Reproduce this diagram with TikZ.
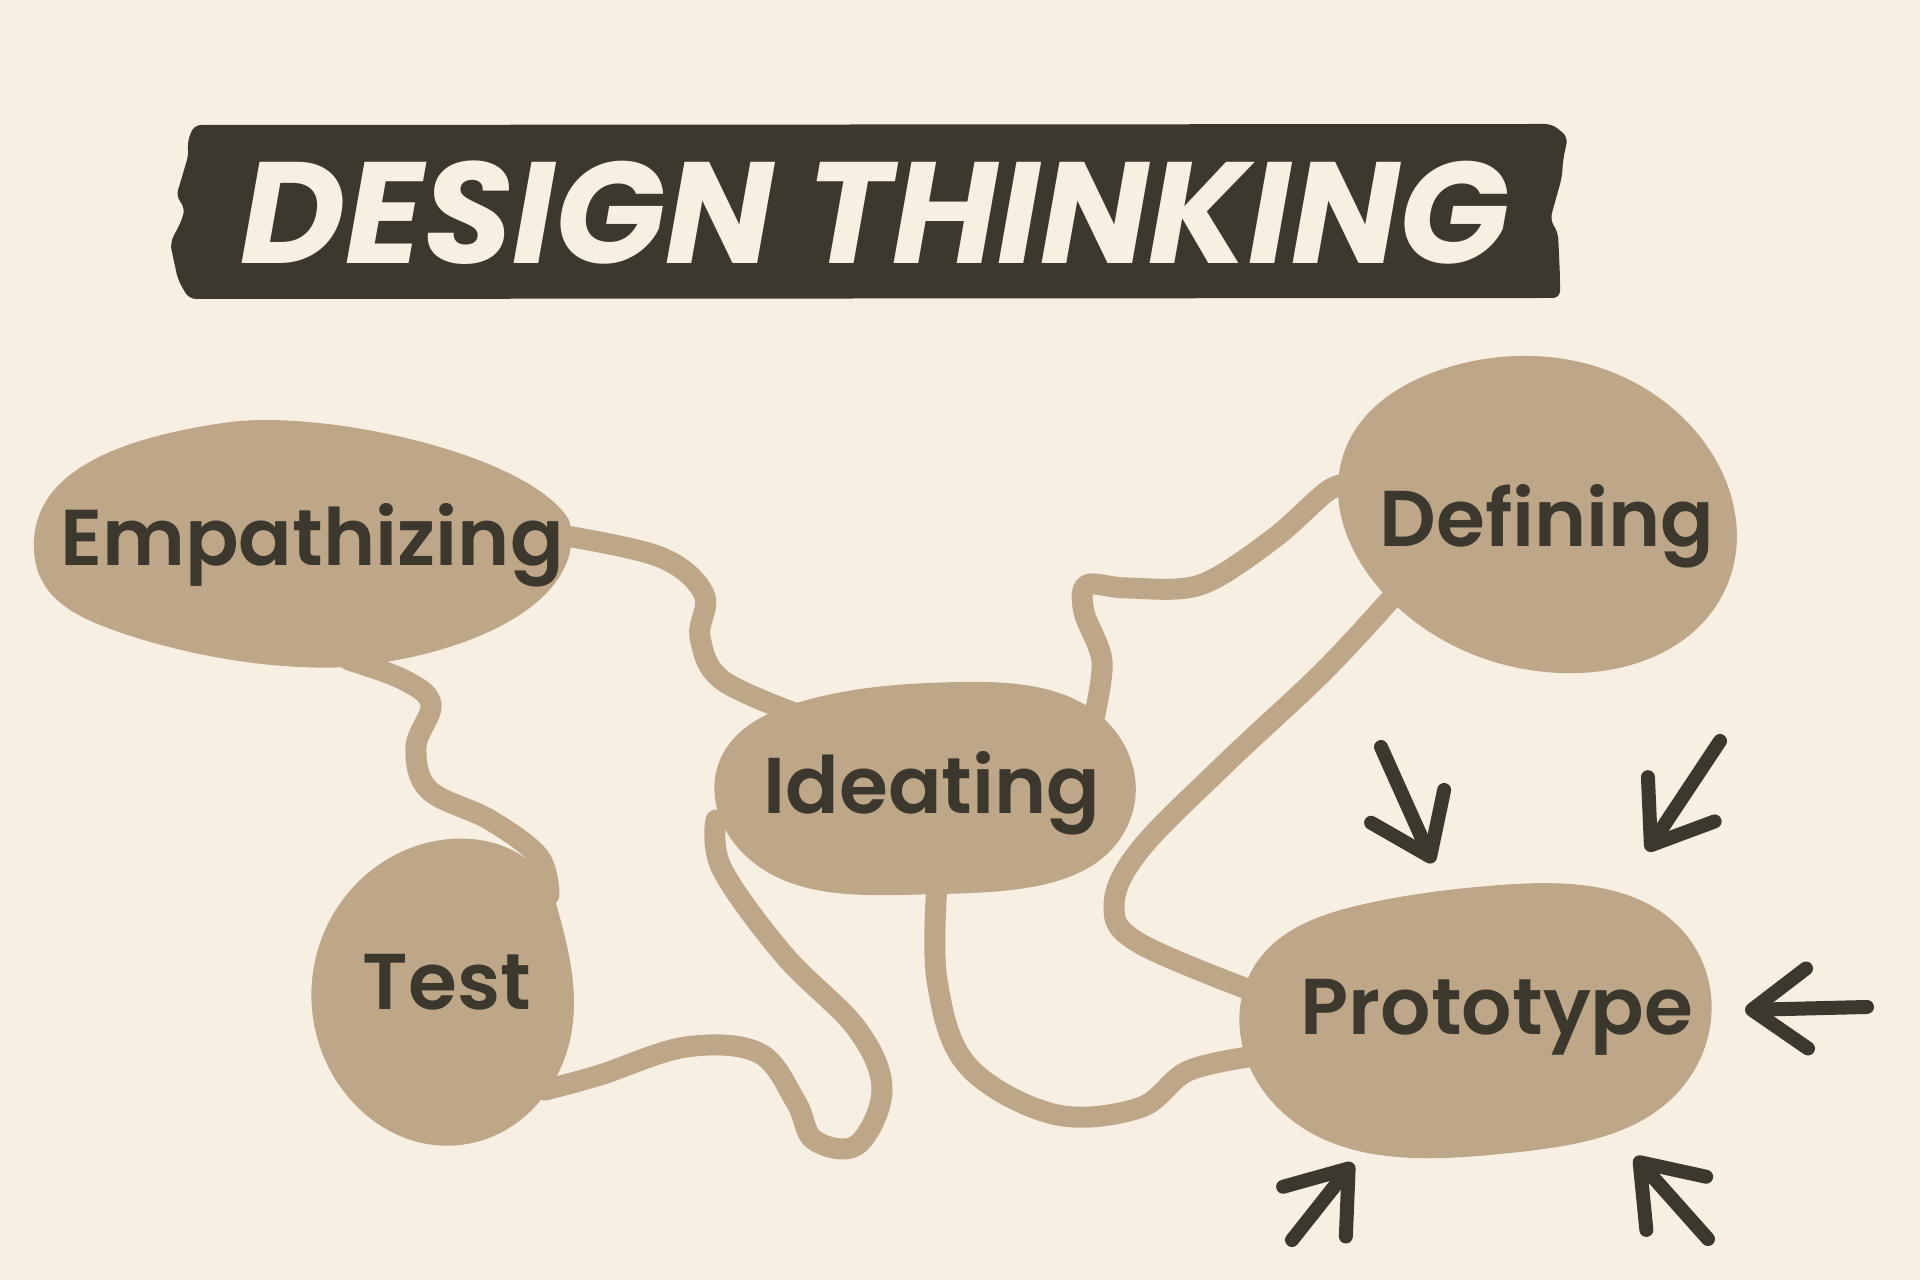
\documentclass[tikz,border=0pt]{standalone}
\usepackage{fontspec}
\setmainfont{Poppins}
\newfontfamily\stagefont{Poppins SemiBold}
\usetikzlibrary{arrows.meta,positioning,hobby}
\definecolor{paper}{HTML}{F8EFE3}
\definecolor{sand}{HTML}{BEA688}
\definecolor{ink}{HTML}{3C382D}
\begin{document}
\begin{tikzpicture}[x=0.01cm,y=-0.01cm,
    blob/.style={fill=sand,use Hobby shortcut,closed=true},
    link/.style={draw=sand,line width=0.21cm,line cap=round,line join=round},
    lbl/.style={anchor=base,text=ink,font=\stagefont\fontsize{22.5}{27}\selectfont,inner sep=0pt},
    pointer/.style={draw=ink,line width=0.14cm,line cap=round,-{Straight Barb[round,length=5.5mm,width=8mm]}}]
  \fill[paper] (0,0) rectangle (1920,1280);

  % title banner
  \fill[ink,rounded corners=2pt] (194,125) -- (1552,124) -- (1568,137) -- (1563,160) -- (1562,177) -- (1550,220) -- (1558,232) -- (1560,277) -- (1560,298)
     -- (189,299) -- (178,280) -- (170,243) -- (182,220) -- (185,207) -- (176,197) -- (182,177) -- (189,153) -- (187,143) -- cycle;
  \node[anchor=base,text=paper,inner sep=0pt,font=\fontsize{41}{48}\selectfont\bfseries\itshape] (title) at (875,264) {DESIGN THINKING};

  % connector ends
  \coordinate (emp-r) at (560,535);
  \coordinate (emp-b) at (349,660);
  \coordinate (test-t) at (549,895);
  \coordinate (test-r) at (545,1090);
  \coordinate (idea-nw) at (800,715);
  \coordinate (idea-n) at (1094,718);
  \coordinate (idea-w) at (716,820);
  \coordinate (idea-s) at (937,885);
  \coordinate (def-w) at (1355,484);
  \coordinate (def-sw) at (1390,600);
  \coordinate (proto-w) at (1255,992);
  \coordinate (proto-sw) at (1255,1056);

  % links
  \draw[link] plot[smooth,tension=0.6] coordinates {(emp-r) (660,557) (704,594) (700,637) (722,680) (idea-nw)};
  \draw[link] plot[smooth,tension=0.6] coordinates {(emp-b) (404,680) (431,704) (416,747) (429,790) (490,820) (539,857) (test-t)};
  \draw[link] plot[smooth,tension=0.55] coordinates {(idea-n) (1102,661) (1084,612) (1087,585) (1127,588) (1200,585) (1273,539) (1329,490) (def-w)};
  \draw[link] plot[smooth,tension=0.6] coordinates {(test-r) (600,1075) (686,1047) (759,1053) (796,1102) (814,1140) (857,1145) (882,1090) (857,1029) (784,955) (722,869) (idea-w)};
  \draw[link] plot[smooth,tension=0.6] coordinates {(idea-s) (937,980) (967,1065) (1053,1114) (1139,1108) (1188,1071) (proto-sw)};
  \draw[link] plot[smooth,tension=0.6] coordinates {(def-sw) (1322,673) (1224,765) (1139,851) (1114,906) (1139,943) (proto-w)};

  % blobs
  \fill[sand] (34,551) .. controls (30,480) and (100,440) .. (230,422) .. controls (330,410) and (530,455) .. (569,520)
     .. controls (588,590) and (495,652) .. (349,667) .. controls (250,672) and (150,645) .. (100,625)
     .. controls (50,605) and (36,580) .. (34,551) -- cycle;
  \fill[blob] (441,840) .. (555,900) .. (570,1040) .. (460,1145) .. (330,1070) .. (330,920) .. (441,840);
  \fill[blob] (800,702) .. (960,682) .. (1110,725) .. (1130,820) .. (940,894) .. (740,850) .. (720,760) .. (800,702);
  \fill[blob] (1345,450) .. (1440,370) .. (1690,425) .. (1725,590) .. (1560,673) .. (1390,600) .. (1345,450);
  \fill[blob] (1255,965) .. (1360,905) .. (1500,885) .. (1690,940) .. (1680,1090) .. (1510,1153) .. (1280,1110) .. (1255,965);

  % labels
  \node[lbl] (emp) at (312,566) {Empathizing};
  \node[lbl] (test) at (447,1010) {Test};
  \node[lbl] (idea) at (932,814) {Ideating};
  \node[lbl] (def) at (1547,547) {Defining};
  \node[lbl] (proto) at (1497,1035) {Prototype};

  % arrows into prototype
  \coordinate (p1s) at (1381,747); \coordinate (p1t) at (1433,863);
  \coordinate (p2s) at (1720,741); \coordinate (p2t) at (1647,851);
  \coordinate (p3s) at (1867,1007); \coordinate (p3t) at (1745,1010);
  \coordinate (p4s) at (1292,1240); \coordinate (p4t) at (1353,1163);
  \coordinate (p5s) at (1708,1239); \coordinate (p5t) at (1635,1157);
  \draw[pointer] (p1s) -- (p1t);
  \draw[pointer] (p2s) -- (p2t);
  \draw[pointer] (p3s) -- (p3t);
  \draw[pointer] (p4s) -- (p4t);
  \draw[pointer] (p5s) -- (p5t);
\end{tikzpicture}
\end{document}
